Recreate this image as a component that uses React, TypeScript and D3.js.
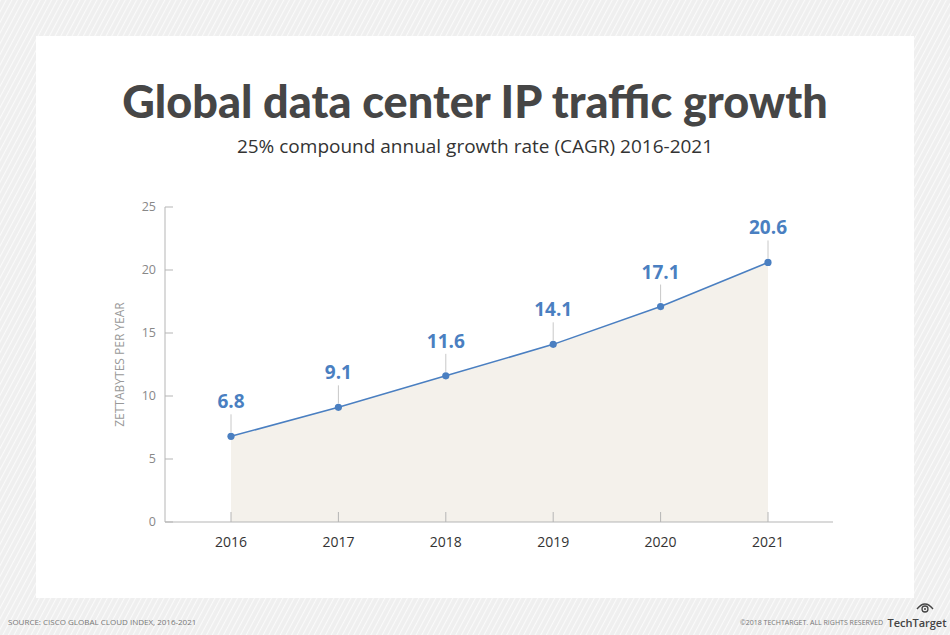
import React from "react";
import * as d3 from "d3";

const years = ["2016", "2017", "2018", "2019", "2020", "2021"];
const zettabytes = [6.8, 9.1, 11.6, 14.1, 17.1, 20.6];
const yTicks = [0, 5, 10, 15, 20, 25];

const W = 950;
const H = 635;
const BLUE = "#4a7fc1";

export default function App() {
  const x = d3.scalePoint<string>().domain(years).range([231, 768]);
  const y = d3.scaleLinear().domain([0, 25]).range([522, 207]);
  const data = years.map((yr, i) => ({ yr, v: zettabytes[i] }));

  const line = d3
    .line<{ yr: string; v: number }>()
    .x((d) => x(d.yr)!)
    .y((d) => y(d.v));
  const area = d3
    .area<{ yr: string; v: number }>()
    .x((d) => x(d.yr)!)
    .y0(y(0))
    .y1((d) => y(d.v));

  return (
    <svg
      width={W}
      height={H}
      style={{ position: "absolute", left: 0, top: 0 }}
      fontFamily="'Open Sans', sans-serif"
    >
      <defs>
        <pattern
          id="stripes"
          width="5"
          height="5"
          patternUnits="userSpaceOnUse"
          patternTransform="rotate(28)"
        >
          <rect width="5" height="5" fill="#efefef" />
          <rect width="1.1" height="5" fill="#fafafa" />
        </pattern>
      </defs>
      <rect width={W} height={H} fill="url(#stripes)" />
      <rect x={36} y={36} width={878} height={562} fill="#ffffff" />

      <text
        x={475}
        y={118}
        textAnchor="middle"
        fontFamily="Lato, sans-serif"
        fontWeight={900}
        fontSize={45}
        fill="#464646"
      >
        Global data center IP traffic growth
      </text>
      <text x={475} y={153} textAnchor="middle" fontSize={19} fill="#333">
        25% compound annual growth rate (CAGR) 2016-2021
      </text>

      <path d={area(data)!} fill="#f4f1eb" />

      {/* y axis */}
      <line x1={165} x2={165} y1={y(25)} y2={y(0)} stroke="#b5b5b5" />
      {yTicks.map((t) => (
        <g key={t}>
          <line x1={165} x2={173} y1={y(t)} y2={y(t)} stroke="#b5b5b5" />
          <text
            x={156}
            y={y(t)}
            dy="0.35em"
            textAnchor="end"
            fontSize={12.5}
            fill="#888"
          >
            {t}
          </text>
        </g>
      ))}
      <text
        transform={`translate(124,${(y(0) + y(25)) / 2}) rotate(-90)`}
        textAnchor="middle"
        fontSize={12}
        fill="#999"
      >
        ZETTABYTES PER YEAR
      </text>

      {/* x axis */}
      <line x1={165} x2={833} y1={y(0)} y2={y(0)} stroke="#b5b5b5" />
      {years.map((yr) => (
        <g key={yr}>
          <line x1={x(yr)} x2={x(yr)} y1={y(0)} y2={y(0) - 10} stroke="#b5b5b5" />
          <text x={x(yr)} y={547} textAnchor="middle" fontSize={14} fill="#333">
            {yr}
          </text>
        </g>
      ))}

      <path d={line(data)!} fill="none" stroke={BLUE} strokeWidth={1.5} />
      {data.map((d) => (
        <g key={d.yr}>
          <line
            x1={x(d.yr)}
            x2={x(d.yr)}
            y1={y(d.v) - 4}
            y2={y(d.v) - 22}
            stroke="#c8c8c8"
          />
          <circle cx={x(d.yr)} cy={y(d.v)} r={3.6} fill={BLUE} />
          <text
            x={x(d.yr)}
            y={y(d.v) - 28}
            textAnchor="middle"
            fontSize={19}
            fontWeight={700}
            fill={BLUE}
          >
            {d.v.toFixed(1)}
          </text>
        </g>
      ))}

      <text x={8} y={625} fontSize={8} fill="#777">
        SOURCE:  CISCO GLOBAL CLOUD INDEX, 2016-2021
      </text>
      <text x={883} y={625} textAnchor="end" fontSize={7} fill="#777">
        ©2018 TECHTARGET. ALL RIGHTS RESERVED
      </text>
      <text x={917} y={627} textAnchor="middle" fontSize={11} fill="#444" fontWeight={600}>
        TechTarget
      </text>
      <g stroke="#444" fill="none" strokeWidth={1.3}>
        <circle cx={925} cy={609} r={3} />
        <path d="M917,609 Q925,599 933,609" />
      </g>
      <circle cx={925} cy={609} r={1} fill="#444" />
    </svg>
  );
}
